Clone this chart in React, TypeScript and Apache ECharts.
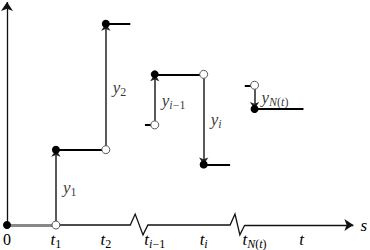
import React, { useEffect, useRef } from 'react';
import * as echarts from 'echarts';

// x positions of axis tick labels and their texts
const tickPositions = [0, 1, 2.02, 3.02, 4.02, 5.06, 6.02];
const tickLabels = [
  '{n|0}',
  '{i|t}{sn|1}',
  '{i|t}{sn|2}',
  '{i|t}{si|i}{sn|−1}',
  '{i|t}{si|i}',
  '{i|t}{si|N}{sn|(}{si|t}{sn|)}',
  '{i|t}',
];

// first holding period (gray): [xStart, xEnd, level]
const firstHold = [0, 1, 0];
// later holding periods: [xStart, xEnd, level]
const holdSegments = [
  [1, 2.02, 1.52],
  [2.02, 2.52, 4.06],
  [2.82, 3.02, 2.02],
  [3.02, 4.02, 3.04],
  [4.02, 4.56, 1.22],
  [4.86, 5.06, 2.82],
  [5.06, 6.06, 2.34],
];
// jumps: [time, levelBefore, levelAfter]
const jumps = [
  [1, 0, 1.52],
  [2.02, 1.52, 4.06],
  [3.02, 2.02, 3.04],
  [4.02, 3.04, 1.22],
  [5.06, 2.82, 2.34],
];
const jumpLabels = [
  '{i|y}{sn|1}',
  '{i|y}{sn|2}',
  '{i|y}{si|i}{sn|−1}',
  '{i|y}{si|i}',
  '{i|y}{si|N}{sn|(}{si|t}{sn|)}',
];
// broken time axis
const axisPath = [
  [0, 0], [2.52, 0], [2.62, 0.22], [2.78, -0.2], [2.88, 0],
  [4.56, 0], [4.66, 0.22], [4.76, -0.2], [4.86, 0],
];
const xMax = 7.08;
const yMax = 4.5;

const FONT = 'Liberation Serif';
const rich = {
  n: { fontFamily: FONT, fontSize: 16, color: '#000', lineHeight: 16, verticalAlign: 'top' },
  i: { fontFamily: FONT, fontSize: 17, fontStyle: 'italic', color: '#000', lineHeight: 16, verticalAlign: 'top' },
  si: { fontFamily: FONT, fontSize: 12, fontStyle: 'italic', color: '#000', lineHeight: 12, padding: [7, 0, 0, 0], verticalAlign: 'top' },
  sn: { fontFamily: FONT, fontSize: 12, color: '#000', lineHeight: 12, padding: [7, 0, 0, 0], verticalAlign: 'top' },
};

export default function App() {
  const ref = useRef<HTMLDivElement>(null);
  useEffect(() => {
    if (!ref.current) return;
    const chart = echarts.init(ref.current, null, { renderer: 'svg' });
    const option: any = {
      animation: false,
      backgroundColor: '#fff',
      grid: { left: 4, right: 12, top: 2, bottom: 22 },
      xAxis: {
        type: 'value',
        min: 0,
        max: xMax,
        splitLine: { show: false },
        axisLine: { show: false },
        axisTick: { show: false },
        axisLabel: {
          customValues: tickPositions,
          margin: 6,
          color: '#000',
          formatter: (v: number) => {
            let best = 0;
            tickPositions.forEach((p, k) => {
              if (Math.abs(p - v) < Math.abs(tickPositions[best] - v)) best = k;
            });
            return tickLabels[best];
          },
          rich,
        },
        name: 's',
        nameLocation: 'end',
        nameGap: 7,
        nameTextStyle: { fontFamily: FONT, fontStyle: 'italic', fontSize: 17, color: '#000' },
      },
      yAxis: {
        type: 'value',
        min: 0,
        max: yMax,
        show: false,
      },
      series: [
        {
          type: 'lines',
          coordinateSystem: 'cartesian2d',
          polyline: true,
          clip: false,
          silent: true,
          lineStyle: { color: '#111', width: 1.3, opacity: 1 },
          data: [{ coords: axisPath }],
          z: 2,
        },
        {
          type: 'lines',
          coordinateSystem: 'cartesian2d',
          clip: false,
          silent: true,
          symbol: ['none', 'arrow'],
          symbolSize: [5, 9],
          lineStyle: { color: '#111', width: 1.3, opacity: 1 },
          data: [
            { coords: [[0, 0], [0, yMax]] },
            { coords: [axisPath[axisPath.length - 1], [xMax, 0]] },
          ],
          z: 2,
        },
        {
          type: 'lines',
          coordinateSystem: 'cartesian2d',
          clip: false,
          silent: true,
          lineStyle: { color: '#888', width: 3, opacity: 1 },
          data: [{ coords: [[firstHold[0], firstHold[2]], [firstHold[1], firstHold[2]]] }],
          z: 3,
        },
        {
          type: 'lines',
          coordinateSystem: 'cartesian2d',
          clip: false,
          silent: true,
          lineStyle: { color: '#000', width: 2, opacity: 1 },
          data: holdSegments.map((s) => ({ coords: [[s[0], s[2]], [s[1], s[2]]] })),
          z: 3,
        },
        {
          type: 'lines',
          coordinateSystem: 'cartesian2d',
          clip: false,
          silent: true,
          symbol: ['none', 'arrow'],
          symbolSize: [5, 7],
          lineStyle: { color: '#222', width: 1.5, opacity: 1 },
          data: jumps.map((j) => ({ coords: [[j[0], j[1]], [j[0], j[2]]] })),
          z: 3,
        },
        {
          type: 'scatter',
          silent: true,
          clip: false,
          symbol: 'circle',
          symbolSize: 8,
          itemStyle: { color: '#fff', borderColor: '#555', borderWidth: 1, opacity: 1 },
          data: jumps.map((j) => [j[0], j[1]]),
          z: 5,
        },
        {
          type: 'scatter',
          silent: true,
          clip: false,
          symbol: 'circle',
          symbolSize: 8,
          itemStyle: { color: '#000', opacity: 1 },
          data: [[0, 0], ...jumps.map((j) => [j[0], j[2]])],
          z: 5,
        },
        {
          type: 'scatter',
          silent: true,
          clip: false,
          symbolSize: 0,
          data: jumps.map((j, k) => ({
            value: [j[0], (j[1] + j[2]) / 2],
            label: {
              show: true,
              position: 'right',
              distance: 7,
              color: '#000',
              formatter: jumpLabels[k],
              rich,
            },
          })),
          z: 6,
        },
      ],
    };
    chart.setOption(option);
    return () => chart.dispose();
  }, []);
  return (
    <div
      ref={ref}
      style={{ position: 'fixed', left: 0, top: 0, width: 370, height: 250, background: '#fff' }}
    />
  );
}
